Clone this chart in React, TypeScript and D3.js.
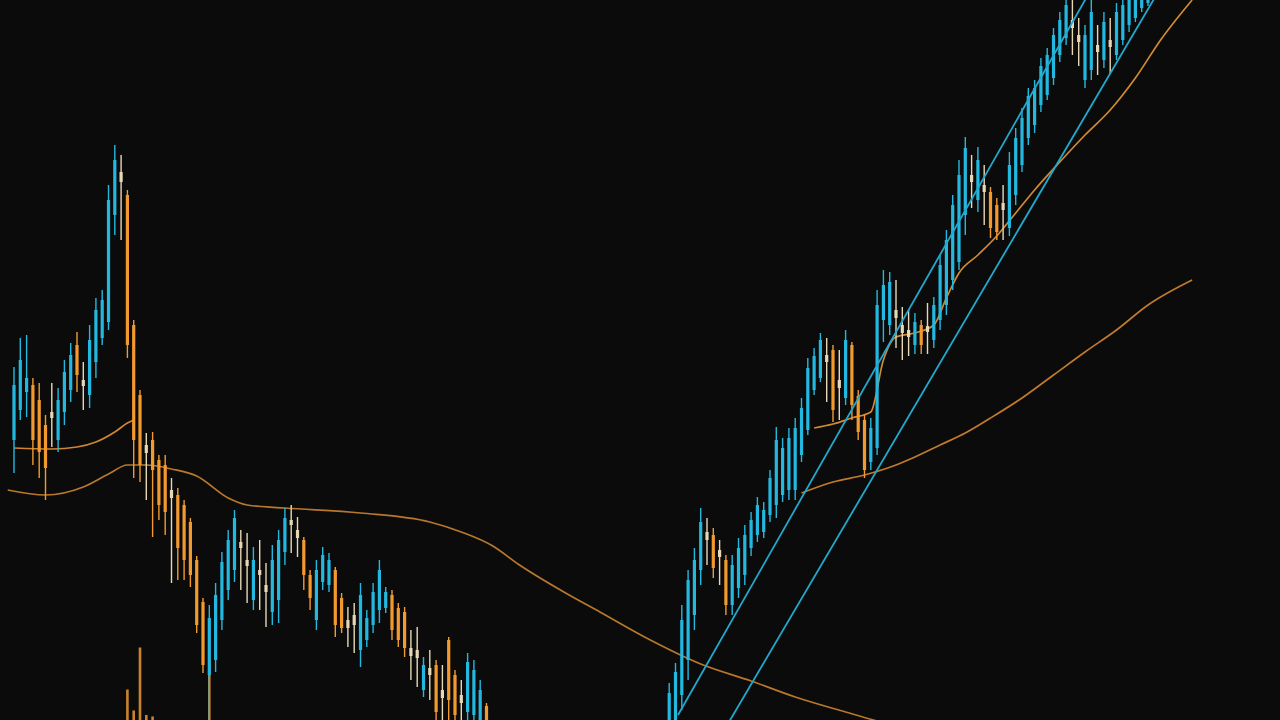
import React from "react";
import * as d3 from "d3";

// ---- candle data (index = bar number) ----
const opens = [
  560, 590, 608, 615, 600, 575, 582, 560, 588, 610,
  655, 620, 605, 638, 662, 678, 785, 828, 805, 675,
  605, 555, 560, 540, 535, 510, 505, 495, 478, 440,
  398, 325, 340, 380, 410, 430, 452, 440, 400, 425,
  415, 388, 400, 448, 475, 470, 460, 425, 380, 418,
  415, 430, 402, 380, 385, 350, 360, 375, 390, 392,
  405, 392, 388, 352, 350, 310, 332, 335, 310, 360,
  325, 305, 288, 285, 275, 294, 250, 232, 218, 235,
  220, 200, 208, 188, 178, 190, 182, 165, 172, 186,
  175, 160, 170, 184, 196, 188, 205, 218, 210, 228,
  240, 232, 250, 262, 255, 275, 305, 340, 385, 430,
  468, 465, 450, 440, 395, 412, 425, 452, 465, 468,
  485, 495, 505, 510, 510, 545, 570, 610, 622, 645,
  650, 620, 602, 655, 604, 580, 538, 552, 680, 675,
  690, 675, 670, 655, 675, 668, 660, 680, 695, 720,
  738, 785, 825, 800, 815, 808, 795, 790, 772, 805,
  835, 862, 875, 895, 905, 922, 945, 962, 980, 965,
  920, 930, 955, 940, 960, 945, 960, 975, 982, 992,
  997, 1012, 1032, 1028, 1052, 1046, 1070, 1064,
];
const highs = [
  633, 662, 665, 622, 617, 585, 617, 612, 640, 657,
  668, 638, 675, 702, 710, 815, 855, 845, 810, 680,
  610, 567, 568, 545, 545, 522, 512, 500, 482, 444,
  402, 395, 417, 448, 470, 490, 470, 467, 453, 460,
  437, 455, 470, 492, 495, 483, 463, 430, 440, 453,
  447, 433, 407, 393, 397, 417, 390, 417, 440, 413,
  410, 397, 393, 370, 373, 343, 350, 340, 335, 363,
  330, 320, 347, 340, 320, 297, 262, 245, 240, 248,
  228, 215, 220, 200, 195, 205, 190, 178, 190, 195,
  182, 175, 188, 200, 205, 210, 222, 228, 232, 245,
  250, 255, 268, 275, 317, 337, 395, 430, 452, 492,
  482, 472, 460, 445, 445, 462, 475, 488, 503, 498,
  530, 573, 562, 572, 582, 602, 642, 652, 667, 662,
  655, 650, 670, 658, 610, 585, 582, 710, 730, 728,
  720, 693, 690, 687, 680, 697, 703, 745, 770, 805,
  840, 863, 845, 853, 835, 813, 802, 815, 848, 872,
  892, 912, 920, 942, 952, 972, 988, 1005, 1000, 982,
  975, 1000, 975, 988, 982, 997, 1005, 1010, 1015, 1020,
  1020, 1040, 1050, 1058, 1066, 1075, 1088, 1092,
];
const lows = [
  527, 580, 583, 535, 522, 500, 553, 548, 575, 598,
  608, 590, 592, 622, 655, 670, 765, 760, 642, 522,
  518, 500, 463, 480, 465, 417, 420, 420, 413, 367,
  327, 275, 328, 370, 400, 418, 410, 397, 390, 390,
  373, 375, 377, 435, 447, 443, 410, 390, 370, 410,
  408, 363, 367, 353, 347, 333, 353, 367, 377, 387,
  360, 353, 343, 320, 313, 303, 300, 278, 278, 275,
  272, 270, 265, 265, 255, 235, 225, 210, 205, 215,
  195, 185, 180, 170, 165, 176, 160, 150, 165, 168,
  155, 148, 162, 178, 182, 184, 198, 205, 206, 220,
  225, 228, 242, 250, 248, 265, 290, 320, 370, 415,
  435, 422, 415, 385, 385, 402, 415, 444, 458, 462,
  478, 482, 498, 500, 500, 538, 565, 605, 618, 598,
  578, 580, 595, 580, 560, 522, 530, 545, 658, 665,
  652, 640, 644, 646, 646, 646, 652, 670, 685, 710,
  730, 765, 792, 788, 775, 762, 760, 760, 764, 795,
  828, 855, 867, 888, 900, 915, 938, 955, 945, 934,
  912, 920, 925, 932, 926, 940, 955, 968, 978, 988,
  994, 1006, 1020, 1022, 1040, 1042, 1060, 1058,
];
const closes = [
  615, 640, 622, 560, 548, 532, 588, 600, 628, 645,
  625, 614, 660, 690, 700, 800, 840, 818, 655, 560,
  535, 547, 530, 495, 488, 502, 452, 440, 425, 375,
  335, 382, 405, 438, 460, 482, 458, 434, 440, 430,
  408, 440, 460, 482, 480, 462, 425, 402, 430, 445,
  440, 375, 372, 372, 375, 405, 382, 408, 430, 408,
  370, 360, 352, 344, 342, 335, 325, 288, 302, 300,
  285, 297, 338, 330, 310, 250, 232, 218, 235, 220,
  200, 208, 188, 178, 190, 182, 165, 172, 186, 175,
  160, 170, 184, 196, 188, 205, 218, 210, 228, 240,
  232, 250, 262, 270, 307, 328, 380, 420, 440, 478,
  460, 432, 443, 395, 435, 452, 465, 480, 495, 490,
  522, 560, 552, 562, 572, 592, 632, 644, 660, 638,
  590, 612, 660, 595, 568, 530, 572, 695, 715, 718,
  682, 667, 663, 678, 655, 674, 695, 735, 760, 795,
  825, 852, 818, 840, 808, 772, 768, 797, 835, 862,
  882, 904, 912, 934, 945, 965, 980, 995, 972, 958,
  965, 988, 948, 978, 953, 988, 995, 1002, 1005, 1008,
  1010, 1032, 1028, 1052, 1046, 1070, 1064, 1086,
];
const volumes = [
  12, 14, 10, 16, 18, 20, 11, 9, 13, 12,
  15, 10, 14, 17, 16, 22, 24, 19, 47, 33,
  75, 30, 29, 18, 16, 14, 21, 17, 15, 19,
  22, 66, 20, 16, 14, 12, 10, 11, 13, 9,
  10, 12, 15, 13, 11, 9, 12, 14, 13, 10,
  9, 14, 12, 10, 11, 15, 9, 10, 13, 8,
  12, 13, 14, 11, 10, 9, 12, 16, 11, 18,
  15, 12, 14, 13, 17, 20, 14, 12, 10, 11,
  13, 9, 12, 11, 10, 14, 12, 15, 13, 9,
  11, 12, 10, 13, 9, 12, 14, 11, 10, 13,
  12, 14, 16, 15, 18, 17, 22, 20, 19, 21,
  14, 12, 11, 15, 13, 12, 14, 11, 10, 12,
  13, 18, 14, 12, 15, 16, 19, 14, 13, 12,
  15, 11, 14, 16, 13, 17, 12, 23, 18, 15,
  12, 11, 10, 12, 13, 11, 12, 15, 16, 18,
  20, 19, 13, 12, 11, 14, 12, 10, 15, 16,
  17, 14, 13, 15, 12, 14, 16, 15, 12, 11,
  13, 14, 11, 12, 10, 13, 14, 12, 11, 13,
  12, 14, 13, 11, 12, 10, 13, 12,
];

// ---- indicator lines (bar index, price) ----
const maLong = [
  { i: -1, v: 510 }, { i: 5, v: 505 }, { i: 11, v: 513 }, { i: 15, v: 526 },
  { i: 18, v: 535 }, { i: 21, v: 535 }, { i: 25, v: 531 }, { i: 29, v: 524 },
  { i: 34, v: 502 }, { i: 37, v: 495 }, { i: 43, v: 492 }, { i: 55, v: 487 },
  { i: 66, v: 478 }, { i: 71, v: 468 }, { i: 76, v: 454 }, { i: 80, v: 436 },
  { i: 87, v: 409 }, { i: 93, v: 388 }, { i: 101, v: 360 }, { i: 109, v: 336 },
  { i: 117, v: 319 }, { i: 124, v: 303 }, { i: 132, v: 288 }, { i: 137, v: 279 },
  { i: 145, v: 267 },
];
const maMidLeft = [
  { i: 0, v: 552 }, { i: 6, v: 551 }, { i: 10, v: 553 }, { i: 13, v: 558 },
  { i: 16, v: 568 }, { i: 18, v: 577 }, { i: 19, v: 580 },
];
const maMidRight = [
  { i: 125, v: 507 }, { i: 130, v: 518 }, { i: 135, v: 525 }, { i: 140, v: 535 },
  { i: 143, v: 543 }, { i: 147, v: 555 }, { i: 151, v: 567 }, { i: 155, v: 582 },
  { i: 160, v: 602 }, { i: 165, v: 625 }, { i: 170, v: 648 }, { i: 175, v: 670 },
  { i: 180, v: 695 }, { i: 187, v: 720 },
];
const maFast = [
  { i: 127, v: 572 }, { i: 130, v: 576 }, { i: 133, v: 582 }, { i: 136, v: 588 },
  { i: 138, v: 640 }, { i: 140, v: 663 }, { i: 143, v: 667 }, { i: 146, v: 675 },
  { i: 148, v: 702 }, { i: 150, v: 727 }, { i: 153, v: 745 }, { i: 156, v: 764 },
  { i: 159, v: 787 }, { i: 162, v: 810 }, { i: 166, v: 838 }, { i: 170, v: 865 },
  { i: 174, v: 890 }, { i: 178, v: 922 }, { i: 182, v: 960 }, { i: 187, v: 1000 },
];
const trendUpper = [{ i: 105.4, v: 285 }, { i: 172, v: 1022 }];
const trendLower = [{ i: 112, v: 262 }, { i: 183, v: 1023 }];

const W = 1280;
const H = 720;
const UP = "#24b8e0";
const DOWN = "#f39a2e";
const DOJI = "#e6d8b4";

type P = { i: number; v: number };

export default function App() {
  const n = opens.length;
  const x = d3.scaleLinear().domain([0, n - 1]).range([14, 14 + 6.3 * (n - 1)]);
  const y = d3.scaleLinear().domain([280, 1000]).range([H, 0]);
  const yv = d3.scaleLinear().domain([0, 100]).range([760, 610]);

  const smooth = d3
    .line<P>()
    .x((d) => x(d.i))
    .y((d) => y(d.v))
    .curve(d3.curveMonotoneX);
  const straight = d3
    .line<P>()
    .x((d) => x(d.i))
    .y((d) => y(d.v));

  const idx = d3.range(n);
  const colorOf = (k: number) =>
    Math.abs(closes[k] - opens[k]) <= 10 ? DOJI : closes[k] > opens[k] ? UP : DOWN;

  return (
    <div style={{ position: "fixed", left: 0, top: 0, width: W, height: H, background: "#0b0b0b" }}>
      <svg width={W} height={H} style={{ display: "block" }}>
        <defs>
          <filter id="soft" x="-10%" y="-10%" width="120%" height="120%">
            <feGaussianBlur stdDeviation="0.45" />
          </filter>
        </defs>
        <rect width={W} height={H} fill="#0b0b0b" />
        <g filter="url(#soft)">
          <path d={smooth(maLong) || ""} fill="none" stroke="#b8772c" strokeWidth={1.7} />
          <path d={smooth(maMidLeft) || ""} fill="none" stroke="#cf8530" strokeWidth={1.7} />
          <path d={smooth(maMidRight) || ""} fill="none" stroke="#c07a2c" strokeWidth={1.7} />
          <path d={smooth(maFast) || ""} fill="none" stroke="#d08a32" strokeWidth={1.7} />
          {idx.map((k) => (
            <rect
              key={"v" + k}
              x={x(k) - 1.3}
              y={yv(volumes[k])}
              width={2.6}
              height={Math.max(0, yv(0) - yv(volumes[k]))}
              fill="#c9822e"
            />
          ))}
          {idx.map((k) => {
            const c = colorOf(k);
            const top = y(Math.max(opens[k], closes[k]));
            const bot = y(Math.min(opens[k], closes[k]));
            return (
              <g key={"c" + k}>
                <line x1={x(k)} x2={x(k)} y1={y(highs[k])} y2={y(lows[k])} stroke={c} strokeWidth={1.4} />
                <rect x={x(k) - 1.6} y={top} width={3.2} height={Math.max(1, bot - top)} fill={c} />
              </g>
            );
          })}
          <path d={straight(trendUpper) || ""} fill="none" stroke="#22a8cc" strokeWidth={1.8} />
          <path d={straight(trendLower) || ""} fill="none" stroke="#22a8cc" strokeWidth={1.8} />
        </g>
      </svg>
    </div>
  );
}
